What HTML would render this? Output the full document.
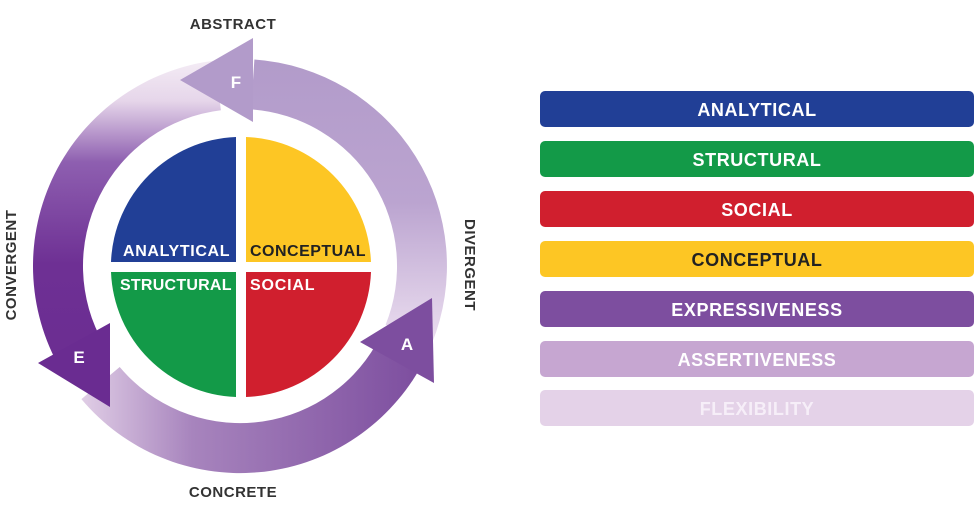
<!DOCTYPE html>
<html><head><meta charset="utf-8"><style>
body{margin:0;background:#fff;width:980px;height:515px;overflow:hidden;font-family:"Liberation Sans",sans-serif}
.bar{position:absolute;left:540px;width:434px;height:36px;border-radius:5px;color:#fff;font-weight:bold;font-size:18px;letter-spacing:0.6px;text-align:center;line-height:38px}
</style></head><body>
<svg width="980" height="515" style="position:absolute;left:0;top:0" font-family="Liberation Sans, sans-serif" font-weight="bold">
<defs>
<linearGradient id="gE" x1="0" y1="60" x2="0" y2="400" gradientUnits="userSpaceOnUse">
<stop offset="0" stop-color="#f4ecf5"/><stop offset="0.12" stop-color="#e6d6ea"/><stop offset="0.3" stop-color="#8e5fb0"/><stop offset="0.6" stop-color="#6e3094"/><stop offset="1" stop-color="#6a2c91"/></linearGradient>
<linearGradient id="gF" x1="0" y1="60" x2="0" y2="345" gradientUnits="userSpaceOnUse">
<stop offset="0" stop-color="#b29bca"/><stop offset="0.5" stop-color="#bba4d0"/><stop offset="1" stop-color="#ecdff0"/></linearGradient>
<linearGradient id="gA" x1="70" y1="0" x2="420" y2="0" gradientUnits="userSpaceOnUse">
<stop offset="0" stop-color="#e6d5ea"/><stop offset="0.35" stop-color="#a784bd"/><stop offset="1" stop-color="#7d4e9f"/></linearGradient>
</defs>
<path d="M214.8,60.6 A207 207 0 0 0 60.7,369.5 L104.0,344.5 A157 157 0 0 1 220.9,110.2 Z" fill="url(#gE)"/>
<path d="M254.4,59.5 A207 207 0 0 1 431.9,343.5 L385.6,324.8 A157 157 0 0 0 251.0,109.4 Z" fill="url(#gF)"/>
<polygon points="180,80 253,38 253,122" fill="#b29bca"/>
<path d="M81.4,399.1 A207 207 0 0 0 419.3,369.5 L376.0,344.5 A157 157 0 0 1 119.7,367.0 Z" fill="url(#gA)"/>
<polygon points="432,298 360,342 434,383" fill="#7d4e9f"/>
<polygon points="38,363 110,323 110,407" fill="#6a2c91"/>
<path d="M236,262 L236,137 A130 130 0 0 0 111,262 Z" fill="#213f96"/>
<path d="M246,262 L246,137 A130 130 0 0 1 371,262 Z" fill="#fdc624"/>
<path d="M236,272 L111,272 A130 130 0 0 0 236,397 Z" fill="#139a48"/>
<path d="M246,272 L371,272 A130 130 0 0 1 246,397 Z" fill="#d01f2e"/>
<g font-size="16" letter-spacing="0.5">
<text x="123" y="256" fill="#fff" textLength="107">ANALYTICAL</text>
<text x="250" y="256" fill="#222" textLength="116">CONCEPTUAL</text>
<text x="120" y="290" fill="#fff" textLength="112">STRUCTURAL</text>
<text x="250" y="290" fill="#fff" textLength="65">SOCIAL</text>
</g>
<g font-size="17" fill="#fff">
<text x="236" y="88" text-anchor="middle">F</text>
<text x="79" y="363" text-anchor="middle">E</text>
<text x="407" y="350" text-anchor="middle">A</text>
</g>
<g font-size="15" fill="#333" letter-spacing="0.5">
<text x="233" y="29" text-anchor="middle">ABSTRACT</text>
<text x="233" y="497" text-anchor="middle">CONCRETE</text>
<text transform="translate(16,265) rotate(-90)" text-anchor="middle">CONVERGENT</text>
<text transform="translate(465,265) rotate(90)" text-anchor="middle">DIVERGENT</text>
</g>
</svg>
<div class="bar" style="top:91px;background:#213f96">ANALYTICAL</div>
<div class="bar" style="top:141px;background:#139a48">STRUCTURAL</div>
<div class="bar" style="top:191px;background:#d01f2e">SOCIAL</div>
<div class="bar" style="top:241px;background:#fdc624;color:#222">CONCEPTUAL</div>
<div class="bar" style="top:291px;background:#7d4e9f">EXPRESSIVENESS</div>
<div class="bar" style="top:341px;background:#c6a6d1">ASSERTIVENESS</div>
<div class="bar" style="top:390px;background:#e4d2e8;color:#f6eef8">FLEXIBILITY</div>
</body></html>
